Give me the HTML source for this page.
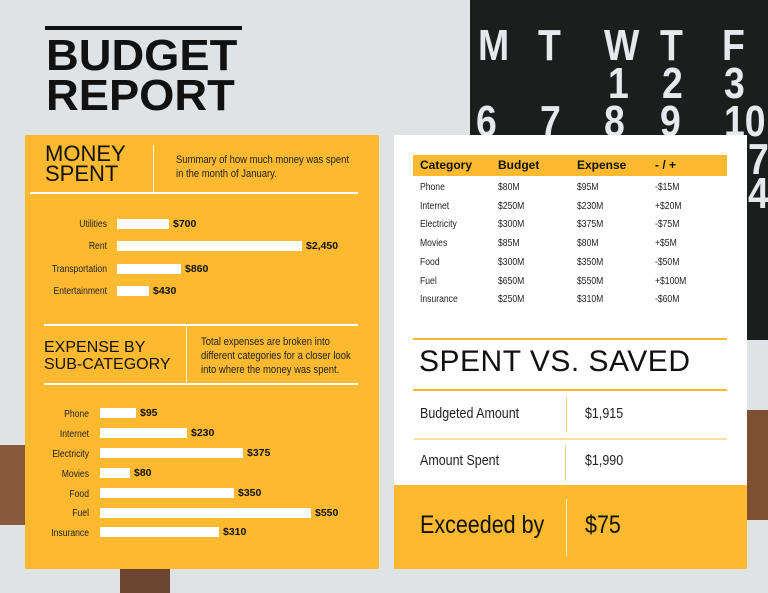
<!DOCTYPE html>
<html><head><meta charset="utf-8"><style>
*{margin:0;padding:0;box-sizing:border-box}
body{width:768px;height:593px;overflow:hidden;position:relative;background:#dfe3e6;font-family:"Liberation Sans",sans-serif;color:#222}
.a{position:absolute;white-space:nowrap}
.y{background:#fdba31}
.w{background:#fff}
.c{transform:scaleX(.86);transform-origin:left top}
.cr{transform:scaleX(.86);transform-origin:right top}
.b{font-family:"Liberation Sans",sans-serif;font-weight:bold}
.cal{color:#e6e9ec;font-family:"Liberation Sans",sans-serif;font-weight:bold;font-size:44px;line-height:44px;transform:scaleX(.85);transform-origin:left top}
.lbl{font-size:10px;text-align:right;width:100px}
.val{font-size:10.5px;font-weight:bold;color:#111}
.t{font-size:10px;color:#222}
</style></head><body>
<div class="a" style="left:470px;top:0;width:298px;height:340px;background:#1c1d1d"></div>
<div class="a cal" style="left:478px;top:24px">M</div>
<div class="a cal" style="left:538px;top:24px">T</div>
<div class="a cal" style="left:604px;top:24px">W</div>
<div class="a cal" style="left:660px;top:24px">T</div>
<div class="a cal" style="left:722px;top:24px">F</div>
<div class="a cal" style="left:608px;top:62px">1</div>
<div class="a cal" style="left:662px;top:62px">2</div>
<div class="a cal" style="left:724px;top:62px">3</div>
<div class="a cal" style="left:476px;top:100px">6</div>
<div class="a cal" style="left:540px;top:100px">7</div>
<div class="a cal" style="left:604px;top:100px">8</div>
<div class="a cal" style="left:660px;top:100px">9</div>
<div class="a cal" style="left:724px;top:100px">10</div>
<div class="a cal" style="left:748px;top:138px">7</div>
<div class="a cal" style="left:748px;top:172px">4</div>
<div class="a" style="left:0;top:445px;width:40px;height:80px;background:#8a5a3c"></div>
<div class="a" style="left:740px;top:410px;width:28px;height:110px;background:#7d4f33"></div>
<div class="a" style="left:120px;top:569px;width:50px;height:24px;background:#6b4530"></div>
<div class="a" style="left:45px;top:26px;width:197px;height:4px;background:#111"></div>
<div class="a b" style="left:46px;top:36px;font-size:44px;line-height:40px;color:#111;transform:scaleX(1.03);transform-origin:left top">BUDGET<br>REPORT</div>
<div class="a y" style="left:25px;top:135px;width:354px;height:434px"></div>
<div class="a" style="left:45px;top:144px;font-size:22px;line-height:20px;color:#111">MONEY<br>SPENT</div>
<div class="a" style="left:153px;top:145px;width:1px;height:47px;background:#fff6dc"></div>
<div class="a t c" style="left:176px;top:153px;font-size:11px;line-height:14px">Summary of how much money was spent<br>in the month of January.</div>
<div class="a" style="left:30px;top:192px;width:328px;height:1.5px;background:#fff"></div>
<div class="a lbl cr" style="left:7px;top:219px">Utilities</div>
<div class="a lbl cr" style="left:7px;top:241px">Rent</div>
<div class="a lbl cr" style="left:7px;top:264px">Transportation</div>
<div class="a lbl cr" style="left:7px;top:286px">Entertainment</div>
<div class="a w" style="left:117px;top:219px;width:52px;height:10px"></div>
<div class="a w" style="left:117px;top:241px;width:185px;height:10px"></div>
<div class="a w" style="left:117px;top:264px;width:64px;height:10px"></div>
<div class="a w" style="left:117px;top:286px;width:32px;height:10px"></div>
<div class="a val" style="left:173px;top:218px">$700</div>
<div class="a val" style="left:306px;top:240px">$2,450</div>
<div class="a val" style="left:185px;top:263px">$860</div>
<div class="a val" style="left:153px;top:285px">$430</div>
<div class="a" style="left:44px;top:324px;width:314px;height:1.5px;background:#fff"></div>
<div class="a" style="left:186px;top:324px;width:1px;height:60px;background:#fff6dc"></div>
<div class="a" style="left:44px;top:383px;width:314px;height:1.5px;background:#fff"></div>
<div class="a" style="left:44px;top:339px;font-size:16px;line-height:17px;color:#111">EXPENSE BY<br>SUB-CATEGORY</div>
<div class="a t c" style="left:201px;top:335px;font-size:11px;line-height:14px">Total expenses are broken into<br>different categories for a closer look<br>into where the money was spent.</div>
<div class="a lbl cr" style="left:-11px;top:409px">Phone</div>
<div class="a lbl cr" style="left:-11px;top:429px">Internet</div>
<div class="a lbl cr" style="left:-11px;top:449px">Electricity</div>
<div class="a lbl cr" style="left:-11px;top:469px">Movies</div>
<div class="a lbl cr" style="left:-11px;top:489px">Food</div>
<div class="a lbl cr" style="left:-11px;top:508px">Fuel</div>
<div class="a lbl cr" style="left:-11px;top:528px">Insurance</div>
<div class="a w" style="left:100px;top:408px;width:36px;height:10px"></div>
<div class="a w" style="left:100px;top:428px;width:87px;height:10px"></div>
<div class="a w" style="left:100px;top:448px;width:143px;height:10px"></div>
<div class="a w" style="left:100px;top:468px;width:30px;height:10px"></div>
<div class="a w" style="left:100px;top:488px;width:134px;height:10px"></div>
<div class="a w" style="left:100px;top:508px;width:211px;height:10px"></div>
<div class="a w" style="left:100px;top:527px;width:119px;height:10px"></div>
<div class="a val" style="left:140px;top:407px">$95</div>
<div class="a val" style="left:191px;top:427px">$230</div>
<div class="a val" style="left:247px;top:447px">$375</div>
<div class="a val" style="left:134px;top:467px">$80</div>
<div class="a val" style="left:238px;top:487px">$350</div>
<div class="a val" style="left:315px;top:507px">$550</div>
<div class="a val" style="left:223px;top:526px">$310</div>
<div class="a w" style="left:394px;top:135px;width:353px;height:350px"></div>
<div class="a y" style="left:394px;top:485px;width:353px;height:84px"></div>
<div class="a y" style="left:413px;top:155px;width:314px;height:21px"></div>
<div class="a b" style="left:420px;top:158px;font-size:12px;color:#111">Category</div>
<div class="a b" style="left:498px;top:158px;font-size:12px;color:#111">Budget</div>
<div class="a b" style="left:577px;top:158px;font-size:12px;color:#111">Expense</div>
<div class="a b" style="left:655px;top:158px;font-size:12px;color:#111">- / +</div>
<div class="a t c" style="left:420px;top:179px;line-height:18.7px">Phone<br>Internet<br>Electricity<br>Movies<br>Food<br>Fuel<br>Insurance</div>
<div class="a t c" style="left:498px;top:179px;line-height:18.7px">$80M<br>$250M<br>$300M<br>$85M<br>$300M<br>$650M<br>$250M</div>
<div class="a t c" style="left:577px;top:179px;line-height:18.7px">$95M<br>$230M<br>$375M<br>$80M<br>$350M<br>$550M<br>$310M</div>
<div class="a t c" style="left:655px;top:179px;line-height:18.7px">-$15M<br>+$20M<br>-$75M<br>+$5M<br>-$50M<br>+$100M<br>-$60M</div>
<div class="a" style="left:413px;top:338px;width:314px;height:1.5px;background:#fdba31"></div>
<div class="a" style="left:419px;top:345px;font-size:30px;line-height:34px;color:#111;letter-spacing:0.5px">SPENT VS. SAVED</div>
<div class="a" style="left:413px;top:389px;width:314px;height:1.5px;background:#fdba31"></div>
<div class="a" style="left:566px;top:397px;width:1px;height:36px;background:#fdd27a"></div>
<div class="a" style="left:414px;top:438px;width:313px;height:1.5px;background:#fde0a0"></div>
<div class="a" style="left:565px;top:445px;width:1px;height:36px;background:#fdd27a"></div>
<div class="a c" style="left:420px;top:406px;font-size:14.5px">Budgeted Amount</div>
<div class="a c" style="left:585px;top:406px;font-size:14.5px">$1,915</div>
<div class="a c" style="left:420px;top:453px;font-size:14.5px">Amount Spent</div>
<div class="a c" style="left:585px;top:453px;font-size:14.5px">$1,990</div>
<div class="a" style="left:566px;top:499px;width:1px;height:57px;background:#fff1cc"></div>
<div class="a c" style="left:420px;top:511px;font-size:25px;color:#111">Exceeded by</div>
<div class="a c" style="left:585px;top:511px;font-size:25px;color:#111">$75</div>
</body></html>
